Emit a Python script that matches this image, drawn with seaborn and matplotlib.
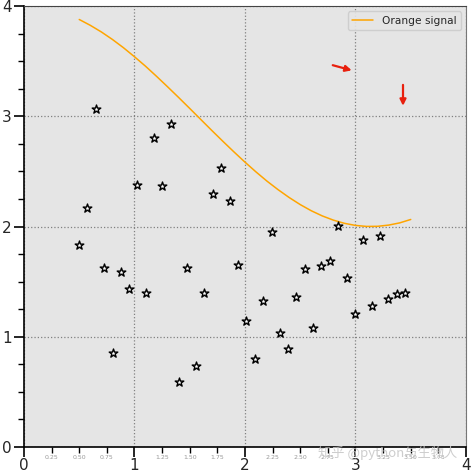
import numpy as np
import pandas as pd
import matplotlib
matplotlib.use("Agg")
import matplotlib.pyplot as plt
from matplotlib.ticker import MultipleLocator, FixedLocator, FixedFormatter
import seaborn as sns

# star points
star_x = [0.498, 0.570, 0.652, 0.724, 0.805, 0.878, 0.950, 1.023, 1.104, 1.176,
          1.249, 1.330, 1.403, 1.475, 1.557, 1.629, 1.710, 1.783, 1.864, 1.937,
          2.009, 2.090, 2.163, 2.244, 2.317, 2.389, 2.462, 2.543, 2.615, 2.688,
          2.769, 2.842, 2.923, 2.995, 3.068, 3.149, 3.222, 3.294, 3.376, 3.448]
star_y = [1.832, 2.168, 3.066, 1.624, 0.853, 1.587, 1.433, 2.376, 1.397, 2.803,
          2.367, 2.930, 0.590, 1.624, 0.735, 1.397, 2.295, 2.531, 2.231, 1.651,
          1.143, 0.798, 1.324, 1.950, 1.034, 0.889, 1.361, 1.615, 1.079, 1.642,
          1.687, 2.005, 1.533, 1.206, 1.878, 1.279, 1.914, 1.342, 1.388, 1.397]

# orange signal
sig_x = [0.5, 0.6, 0.7, 0.8, 0.9, 1.0, 1.1, 1.2, 1.3, 1.4, 1.5, 1.6, 1.7, 1.8, 1.9,
         2.0, 2.1, 2.2, 2.3, 2.4, 2.5, 2.6, 2.7, 2.8, 2.9, 3.0, 3.1, 3.2, 3.3, 3.4, 3.5]
sig_y = [3.878, 3.825, 3.765, 3.697, 3.622, 3.540, 3.454, 3.362, 3.267, 3.170,
         3.071, 2.971, 2.871, 2.773, 2.677, 2.584, 2.495, 2.411, 2.334, 2.263,
         2.199, 2.143, 2.096, 2.058, 2.029, 2.010, 2.001, 2.002, 2.013, 2.033, 2.064]

major_ticks = [0, 1, 2, 3, 4]
minor_x_labels = ["0.25", "0.50", "0.75", "1.25", "1.50", "1.75",
                  "2.25", "2.50", "2.75", "3.25", "3.50", "3.75"]
minor_x_pos = [0.25, 0.5, 0.75, 1.25, 1.5, 1.75, 2.25, 2.5, 2.75, 3.25, 3.5, 3.75]

sns.set_style("white", {"axes.facecolor": "#e5e5e5"})

fig = plt.figure(figsize=(4.74, 4.75), dpi=100)
ax = fig.add_axes([0.0506, 0.0589, 0.9325, 0.9284])

stars = pd.DataFrame({"x": star_x, "y": star_y})
signal = pd.DataFrame({"x": sig_x, "y": sig_y})

sns.lineplot(data=signal, x="x", y="y", ax=ax, color="orange", lw=1.1,
             label="Orange signal")
sns.scatterplot(data=stars, x="x", y="y", ax=ax, marker="*", s=42,
                facecolor="white", edgecolor="black", linewidth=1.0, zorder=3)

ax.set_xlim(0, 4)
ax.set_ylim(0, 4)
ax.set_xlabel("")
ax.set_ylabel("")

ax.xaxis.set_major_locator(FixedLocator(major_ticks))
ax.yaxis.set_major_locator(FixedLocator(major_ticks))
ax.xaxis.set_minor_locator(FixedLocator(minor_x_pos))
ax.xaxis.set_minor_formatter(FixedFormatter(minor_x_labels))
ax.yaxis.set_minor_locator(MultipleLocator(0.25))

ax.tick_params(which="major", direction="out", length=7, width=1.2,
               labelsize=11, color="black", bottom=True, left=True)
ax.tick_params(which="minor", direction="out", length=4, width=1.0,
               color="black", bottom=True, left=True)
ax.tick_params(axis="x", which="minor", labelsize=4.5, labelcolor="#999999", pad=2)
ax.tick_params(axis="x", which="major", pad=1)
ax.tick_params(axis="y", which="major", pad=2)

ax.grid(which="major", linestyle=":", color="gray", lw=0.9)

for s in ["left", "bottom"]:
    ax.spines[s].set_color("black")
    ax.spines[s].set_linewidth(1.2)
ax.spines["top"].set_color("#444444")
ax.spines["right"].set_color("#777777")

ax.legend(loc="upper right", fontsize=7.7, framealpha=0.9)

ax.annotate("", xy=(2.99, 3.41), xytext=(2.77, 3.47),
            arrowprops=dict(arrowstyle="-|>", color="#e8200e", lw=1.6,
                            mutation_scale=9))
ax.annotate("", xy=(3.43, 3.07), xytext=(3.43, 3.31),
            arrowprops=dict(arrowstyle="-|>", color="#e8200e", lw=1.6,
                            mutation_scale=9))

fig.text(0.67, 0.038, "知乎 @python与生物人", fontsize=9.5, color="#c8c8c8",
         family=["Noto Sans CJK SC", "DejaVu Sans"], alpha=0.9)

plt.savefig("out.png", dpi=100)
